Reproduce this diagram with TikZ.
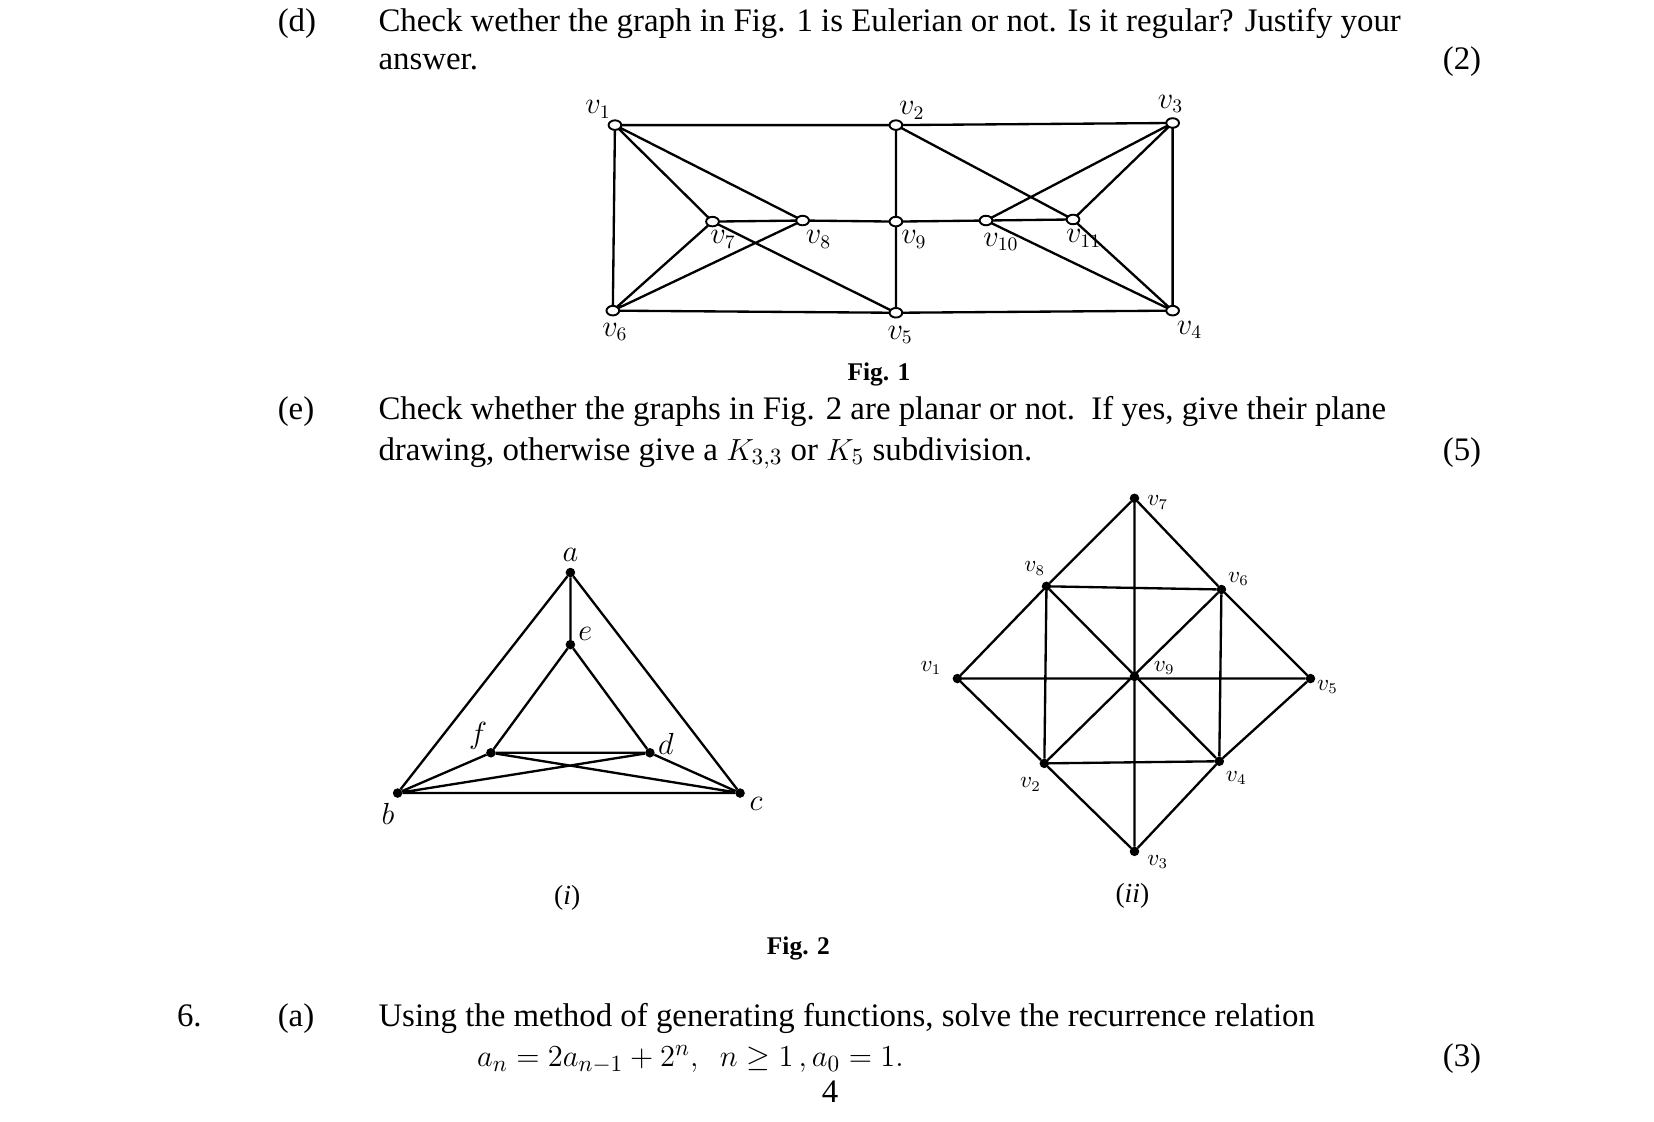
\documentclass[tikz,border=0pt]{standalone}
\usepackage{fontspec}
\setmainfont{Liberation Serif}
\usetikzlibrary{shapes.geometric}
\begin{document}
\begin{tikzpicture}[x=0.5pt,y=-0.5pt,
  every node/.style={inner sep=0pt,outer sep=0pt},
  txt/.style={anchor=base west,font=\fontsize{15.5}{18}\selectfont},
  txtr/.style={anchor=base east,font=\fontsize{15.5}{18}\selectfont},
  ov/.style={draw,fill=white,ellipse,minimum width=6pt,minimum height=4.5pt,line width=0.9pt},
  dv/.style={circle,fill=black,minimum size=4.5pt},
  edge/.style={line width=1.1pt},
  lab/.style={font=\fontsize{13.5}{14}\selectfont},
  slab/.style={font=\fontsize{10.5}{12}\selectfont}]
\useasboundingbox (0,0) rectangle (1560,1058);
% text
\node[txt] (d) at (262,30) {(d)};
\node[txt] (dt) at (357,30) {Check wether the graph in Fig. 1 is Eulerian or not. Is it regular? Justify your};
\node[txt] (dt2) at (357,66) {answer.};
\node[txtr] (m2) at (1397,66) {(2)};
\node[anchor=base,font=\bfseries\fontsize{12}{13}\selectfont] (f1) at (829,359) {Fig. 1};
\node[txt] (e) at (262,396) {(e)};
\node[txt] (et) at (357,396) {Check whether the graphs in Fig. 2 are planar or not.\ \ If yes, give their plane};
\node[txt] (et2) at (357,434) {drawing, otherwise give a $K_{3,3}$ or $K_5$ subdivision.};
\node[txtr] (m5) at (1397,434) {(5)};
\node[anchor=base,font=\fontsize{13}{14}\selectfont] (ci) at (535,853) {(\textit{i})};
\node[anchor=base,font=\fontsize{13}{14}\selectfont] (cii) at (1068,851) {(\textit{ii})};
\node[anchor=base,font=\bfseries\fontsize{12}{13}\selectfont] (f2) at (753,900) {Fig. 2};
\node[txt] (six) at (167,968) {6.};
\node[txt] (a) at (262,968) {(a)};
\node[txt] (at) at (357,968) {Using the method of generating functions, solve the recurrence relation};
\node[txt] (eq) at (450,1006) {$a_n = 2a_{n-1} + 2^n,\ \ n \ge 1\,, a_0 = 1.$};
\node[txtr] (m3) at (1397,1006) {(3)};
\node[anchor=base,font=\fontsize{15.5}{18}\selectfont] (pg) at (783,1040) {4};
% Fig 1
\begin{scope}
\coordinate (v1) at (580,118); \coordinate (v2) at (845,118); \coordinate (v3) at (1106,116);
\coordinate (v4) at (1106,293); \coordinate (v5) at (845,295); \coordinate (v6) at (578,293);
\coordinate (v7) at (672,209); \coordinate (v8) at (757,208); \coordinate (v9) at (845,209);
\coordinate (v10) at (930,208); \coordinate (v11) at (1012,207);
\draw[edge] (v1)--(v2)--(v3)--(v4)--(v5)--(v6)--(v1);
\draw[edge] (v2)--(v5) (v7)--(v8)--(v9)--(v10)--(v11);
\draw[edge] (v1)--(v7) (v1)--(v8) (v6)--(v7) (v6)--(v8) (v7)--(v5);
\draw[edge] (v2)--(v11) (v3)--(v10) (v3)--(v11) (v4)--(v10) (v4)--(v11);
\foreach \vv in {v1,v2,v3,v4,v5,v6,v7,v8,v9,v10,v11} \node[ov] (n\vv) at (\vv) {};
\node[lab] (l1) at (564,103) {$v_1$};
\node[lab] (l2) at (860,104) {$v_2$};
\node[lab] (l3) at (1104,98) {$v_3$};
\node[lab] (l4) at (1122,311) {$v_4$};
\node[lab] (l5) at (849,316) {$v_5$};
\node[lab] (l6) at (580,313) {$v_6$};
\node[lab] (l7) at (682,226) {$v_7$};
\node[lab] (l8) at (772,226) {$v_8$};
\node[lab] (l9) at (862,226) {$v_9$};
\node[lab] (l10) at (944,228) {$v_{10}$};
\node[lab] (l11) at (1022,225) {$v_{11}$};
\end{scope}
% Fig 2 (i)
\begin{scope}
\node[dv] (a) at (538,540) {}; \node[dv] (e) at (538,608) {};
\node[dv] (f) at (463,710) {}; \node[dv] (dd) at (613,710) {};
\node[dv] (b) at (375,748) {}; \node[dv] (c) at (698,748) {};
\draw[edge] (a)--(b)--(c)--(a) (a)--(e) (e)--(f)--(dd)--(e) (b)--(dd) (f)--(c) (b)--(f) (dd)--(c);
\node[lab] (la) at (538,523) {$a$};
\node[lab] (le) at (552,598) {$e$};
\node[lab] (lf) at (451,694) {$f$};
\node[lab] (ld) at (628,702) {$d$};
\node[lab] (lb) at (366,768) {$b$};
\node[lab] (lc) at (713,758) {$c$};
\end{scope}
% Fig 2 (ii)
\begin{scope}
\node[dv] (w7) at (1070,470) {}; \node[dv] (w8) at (987,553) {};
\node[dv] (w6) at (1152,556) {}; \node[dv] (w1) at (903,640) {};
\node[dv] (w9) at (1070,638) {}; \node[dv] (w5) at (1236,640) {};
\node[dv] (w2) at (985,720) {}; \node[dv] (w4) at (1150,718) {};
\node[dv] (w3) at (1070,803) {};
\draw[edge] (w7)--(w6)--(w5)--(w4)--(w3)--(w2)--(w1)--(w8)--(w7);
\draw[edge] (w8)--(w6)--(w4)--(w2)--(w8) (w7)--(w3) (w1)--(w5) (w8)--(w4) (w6)--(w2);
\node[slab] (k7) at (1092,474) {$v_7$};
\node[slab] (k8) at (976,536) {$v_8$};
\node[slab] (k6) at (1168,546) {$v_6$};
\node[slab] (k1) at (878,630) {$v_1$};
\node[slab] (k9) at (1098,630) {$v_9$};
\node[slab] (k5) at (1252,648) {$v_5$};
\node[slab] (k2) at (972,740) {$v_2$};
\node[slab] (k4) at (1166,734) {$v_4$};
\node[slab] (k3) at (1092,813) {$v_3$};
\end{scope}
\end{tikzpicture}
\end{document}
